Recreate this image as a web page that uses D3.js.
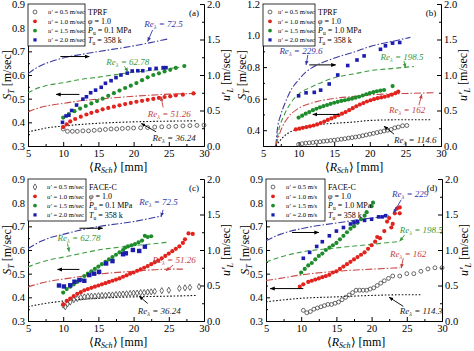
<!DOCTYPE html>
<html>
<head>
<meta charset="utf-8">
<script src="https://d3js.org/d3.v7.min.js"></script>
<style>
  body { margin: 0; background: #fff; }
  svg { font-family: "Liberation Serif", "Times New Roman", serif; }
  .axis path, .axis line { stroke: #000; stroke-width: 1; }
  .axis text { font-size: 10.5px; fill: #000; }
</style>
</head>
<body>
<script>
// shared ticks / labels
var xTicks = [5, 10, 15, 20, 25, 30];
var xMinor = [7.5, 12.5, 17.5, 22.5, 27.5];
var uTicks = [0, 0.5, 1.0, 1.5, 2.0];
var uMinor = [0.25, 0.75, 1.25, 1.75];
var speeds = ['0.5', '1.0', '1.5', '2.0'];

// ---- (a) TPRF, 0.1 MPa : S_T points [R, S_T]
var aOpen = [[10,0.372],[10.6,0.362],[11.3,0.362],[12,0.362],[12.8,0.364],[13.6,0.364],[14.4,0.366],[15.2,0.368],[16,0.37],[16.8,0.372],[17.6,0.372],[18.4,0.374],[19.2,0.375],[20,0.376],[21,0.377],[22,0.378],[23,0.38],[24,0.381],[25,0.382],[26,0.383],[27,0.385],[28,0.386],[29,0.387],[30,0.388]];
var aRed = [[10,0.38],[10.5,0.392],[11,0.404],[11.7,0.414],[12.5,0.424],[13.3,0.433],[14,0.44],[14.8,0.447],[15.6,0.455],[16.4,0.461],[17.2,0.466],[18,0.472],[18.8,0.477],[19.6,0.482],[20.4,0.487],[21.2,0.491],[22,0.495],[22.8,0.499],[23.6,0.503],[24.4,0.507],[25.2,0.51],[26,0.514],[27,0.517],[28.5,0.522]];
var aGreen = [[10,0.42],[10.8,0.435],[11.6,0.447],[12.4,0.458],[13.2,0.469],[14,0.48],[14.8,0.49],[15.6,0.5],[16.4,0.512],[17.2,0.523],[18,0.534],[18.8,0.545],[19.6,0.555],[20.4,0.566],[21.2,0.578],[22,0.59],[22.8,0.6],[23.6,0.607],[24.4,0.615],[25.2,0.622],[26,0.63],[27.2,0.638]];
var aBlue = [[9.9,0.4],[10.4,0.427],[10.8,0.43],[11.2,0.45],[11.9,0.473],[12.8,0.498],[13.3,0.508],[13.9,0.525],[14.6,0.536],[15.4,0.548],[16,0.565],[16.8,0.576],[17.5,0.589],[18.2,0.6],[19.1,0.608],[19.8,0.617],[20.6,0.618],[21.3,0.618],[22.3,0.625],[23.2,0.628],[24.2,0.631],[24.6,0.631]];
// u'_L curves [R, u'_L]
var aLineBlue = [[5,1.02],[6,1.09],[7,1.14],[8,1.18],[10,1.24],[12,1.28],[15,1.33],[20,1.41],[25,1.51]];
var aLineGreen = [[5,0.75],[6,0.8],[8,0.86],[10,0.89],[12,0.93],[15,0.97],[20,1.04],[25,1.09],[26.5,1.11]];
var aLineRed = [[5,0.48],[6,0.52],[8,0.57],[10,0.6],[12,0.63],[15,0.66],[20,0.7],[25,0.73],[29,0.74]];
var aLineBlack = [[5,0.2],[6,0.22],[8,0.26],[10,0.28],[12,0.3],[15,0.32],[20,0.34],[25,0.35],[29,0.355]];
// Re labels: value, colour, text pos [R,S], arrow from/to [R,S]
var aNotes = [
  ['72.5', 'blue', [21.5,0.817], [22.7,0.79], [22,0.742]],
  ['62.78', 'green', [16.1,0.657], [18.7,0.637], [19.2,0.614]],
  ['51.26', 'red', [22,0.437], [24.2,0.463], [23.9,0.508]],
  ['36.24', 'black', [22.7,0.335], [23.2,0.36], [21.1,0.395]]
];
var aArrows = [[9.6,13.7,0.678],[12.3,9.0,0.518]];

// ---- (b) TPRF, 1.0 MPa
var bOpen = [[10,0.31],[10.5,0.315],[11,0.318],[11.5,0.32],[12,0.322],[12.5,0.325],[13,0.327],[13.5,0.33],[14,0.332],[14.5,0.335],[15,0.337],[15.5,0.34],[16,0.343],[16.5,0.346],[17,0.35],[17.5,0.353],[18,0.357],[18.5,0.36],[19,0.365],[19.5,0.37],[20,0.375],[20.5,0.38],[21,0.385],[21.5,0.39],[22,0.395],[22.5,0.4],[23,0.405],[23.5,0.415],[24,0.42],[24.6,0.428],[25.2,0.43]];
var bRed = [[9.6,0.405],[10.1,0.41],[10.6,0.415],[11.1,0.42],[11.6,0.425],[12.1,0.43],[12.6,0.437],[13.1,0.445],[13.6,0.455],[14.1,0.465],[14.6,0.475],[15.1,0.485],[15.6,0.495],[16.1,0.505],[16.6,0.515],[17.1,0.527],[17.6,0.54],[18.1,0.552],[18.6,0.563],[19.1,0.572],[19.6,0.582],[20.1,0.59],[20.6,0.597],[21.1,0.603],[21.6,0.608],[22.1,0.612],[22.6,0.618],[23.1,0.625],[23.6,0.635],[24,0.645]];
var bGreen = [[10,0.48],[10.5,0.492],[11,0.505],[11.5,0.515],[12,0.527],[12.5,0.536],[13,0.545],[13.5,0.553],[14,0.56],[14.5,0.567],[15,0.574],[15.5,0.58],[16,0.586],[16.5,0.59],[17,0.595],[17.5,0.6],[18,0.606],[18.5,0.612],[19,0.62],[19.5,0.628],[20,0.635],[20.5,0.641],[21,0.647],[21.5,0.651],[22,0.655],[23.2,0.68]];
var bBlue = [[10,0.618],[11.05,0.637],[12.2,0.64],[13.1,0.654],[14.3,0.693],[15.5,0.75],[16.9,0.81],[18.2,0.845],[19.2,0.871],[21.5,0.913],[22.2,0.935],[23.2,0.952],[24.2,0.956]];
var bLineBlue = [[6.8,0],[7,0.22],[7.5,0.44],[8,0.58],[9,0.8],[10,0.93],[11,1.04],[12,1.11],[14,1.2],[16,1.27],[18,1.33],[20,1.4],[23,1.47],[25.7,1.53]];
var bLineGreen = [[6.8,0],[7.2,0.22],[8,0.44],[9,0.62],[10,0.73],[12,0.84],[15,0.96],[18,1.02],[20,1.06],[23,1.09],[26.2,1.12]];
var bLineRed = [[6.8,0],[7.5,0.22],[8.5,0.4],[10,0.53],[12,0.61],[15,0.67],[18,0.7],[20,0.72],[25,0.74],[29,0.75]];
var bLineBlack = [[6.8,0],[7.5,0.09],[8.5,0.18],[10,0.24],[12,0.29],[15,0.32],[18,0.34],[20,0.36],[25,0.37],[28.5,0.37]];
var bNotes = [
  ['229.6', 'blue', [7.3,0.905], [11.3,0.877], [11.05,0.814]],
  ['198.5', 'green', [21.5,0.867], [24.8,0.84], [25,0.797]],
  ['162', 'red', [22.7,0.527], [26.9,0.559], [27.3,0.627]],
  ['114.6', 'black', [23.4,0.34], [23.4,0.375], [22,0.425]]
];
var bArrows = [[11.5,15.2,0.814],[15.7,12,0.5]];

// ---- (c) FACE-C, 0.1 MPa
var cOpen = [[10,0.367],[10.3,0.36],[10.6,0.372],[11,0.38],[11.5,0.39],[12,0.395],[12.5,0.4],[13,0.402],[13.5,0.404],[14,0.405],[14.5,0.405],[15,0.407],[15.5,0.408],[16,0.408],[16.5,0.41],[17,0.41],[17.5,0.412],[18,0.413],[18.5,0.414],[19,0.415],[19.5,0.416],[20,0.418],[20.5,0.418],[21,0.42],[21.5,0.42],[22,0.422],[22.5,0.423],[23,0.425],[24,0.428],[25,0.43],[26.5,0.438],[27.3,0.44],[28,0.442],[29.3,0.445]];
var cRed = [[10,0.37],[10.5,0.385],[11,0.395],[11.5,0.405],[12,0.415],[12.5,0.422],[13,0.43],[13.5,0.435],[14,0.44],[14.5,0.445],[15,0.45],[15.5,0.455],[16,0.46],[16.5,0.465],[17,0.47],[17.5,0.475],[18,0.48],[18.5,0.487],[19,0.493],[19.5,0.5],[20,0.505],[20.5,0.512],[21,0.518],[21.5,0.525],[22,0.532],[22.5,0.54],[23,0.548],[23.5,0.555],[24,0.565],[24.5,0.575],[25,0.585],[25.5,0.595],[26,0.605],[26.5,0.615],[27,0.63],[27.3,0.645],[27.8,0.67],[28.4,0.668]];
var cGreen = [[10,0.42],[10.5,0.435],[11,0.445],[11.5,0.455],[12,0.465],[12.5,0.475],[13,0.49],[13.5,0.5],[14,0.51],[14.5,0.52],[15,0.53],[15.5,0.54],[16,0.55],[16.5,0.56],[17,0.57],[17.5,0.58],[18,0.59],[18.5,0.6],[18.8,0.61],[19.2,0.615],[19.7,0.62],[20.2,0.625],[20.7,0.632],[21.2,0.64],[21.6,0.66],[22,0.655],[22.5,0.658]];
var cBlue = [[9.4,0.45],[10.1,0.446],[11,0.451],[11.6,0.466],[12.3,0.473],[13,0.47],[13.7,0.494],[14.4,0.5],[15.1,0.508],[16.1,0.543],[17,0.553],[18.5,0.582],[18.9,0.586],[19.9,0.6],[20.8,0.596],[21.6,0.614]];
var cLineBlue = [[5,1.02],[6,1.08],[7,1.13],[8,1.17],[10,1.22],[12,1.27],[15,1.33],[20,1.4],[24,1.48]];
var cLineGreen = [[5,0.76],[6,0.8],[8,0.86],[10,0.9],[12,0.94],[15,1.0],[20,1.06],[25,1.11]];
var cLineRed = [[5,0.48],[6,0.51],[8,0.56],[10,0.59],[12,0.62],[15,0.66],[20,0.7],[25,0.73],[27,0.73]];
var cLineBlack = [[5,0.2],[7,0.24],[10,0.28],[15,0.32],[20,0.34],[25,0.35],[29,0.36]];
var cNotes = [
  ['72.5', 'blue', [20.8,0.805], [24.2,0.77], [23.9,0.741]],
  ['62.78', 'green', [9.2,0.65], [10.6,0.628], [10.85,0.593]],
  ['51.26', 'red', [22.7,0.558], [25.6,0.536], [24.6,0.512]],
  ['36.24', 'black', [20.6,0.341], [22,0.374], [20.8,0.405]]
];
var cArrows = [[12.3,15.6,0.692],[12.3,9.2,0.518]];

// ---- (d) FACE-C, 1.0 MPa
var dOpen = [[10.3,0.345],[10.8,0.335],[11.3,0.34],[11.8,0.35],[12.3,0.355],[12.8,0.36],[13.3,0.365],[13.8,0.37],[14.3,0.37],[14.8,0.375],[15.3,0.38],[15.8,0.39],[16.3,0.4],[16.8,0.41],[17.3,0.42],[17.8,0.43],[18.3,0.43],[18.8,0.43],[19.3,0.43],[19.8,0.435],[20.3,0.44],[20.8,0.45],[21.3,0.46],[21.8,0.47],[22.4,0.48],[23,0.49],[24,0.49],[25,0.5],[26,0.5],[27,0.51],[28,0.52],[29,0.525],[30,0.525]];
var dRed = [[9.8,0.445],[10.3,0.455],[11,0.465],[11.5,0.47],[12,0.475],[12.5,0.48],[13,0.485],[13.5,0.49],[14,0.495],[14.5,0.505],[15,0.51],[15.5,0.52],[16,0.53],[16.5,0.54],[17,0.55],[17.5,0.56],[18,0.57],[18.5,0.58],[19,0.59],[19.5,0.605],[20,0.62],[20.5,0.635],[20.8,0.655],[21.2,0.65],[21.8,0.68],[22.2,0.72],[22.5,0.735],[22.8,0.695],[23,0.71],[23.3,0.755],[23.6,0.775],[24,0.78],[24,0.755]];
var dGreen = [[10,0.505],[10.5,0.52],[11,0.535],[11.5,0.545],[12,0.56],[12.5,0.575],[13,0.585],[13.5,0.6],[14,0.61],[14.5,0.62],[15,0.63],[15.5,0.645],[16,0.66],[16.5,0.675],[17,0.69],[17.5,0.7],[18,0.715],[18.5,0.73],[19,0.745],[19.3,0.76],[20,0.785],[20.2,0.8]];
var dBlue = [[10.3,0.565],[11.2,0.59],[12.2,0.615],[13,0.635],[14,0.66],[15,0.68],[16,0.695],[17,0.71],[17.5,0.715],[18,0.72],[19,0.725],[20,0.73],[21,0.74],[21.5,0.74],[22,0.745]];
var dLineBlue = [[5,1.13],[7,1.22],[10,1.3],[15,1.38],[20,1.45],[22.5,1.48]];
var dLineGreen = [[5,0.83],[7,0.9],[10,0.97],[15,1.03],[20,1.08],[24,1.12]];
var dLineRed = [[5,0.57],[7,0.6],[10,0.65],[15,0.7],[20,0.73],[24,0.75]];
var dLineBlack = [[5,0.27],[10,0.32],[15,0.34],[20,0.36],[25,0.37],[27,0.37]];
var dNotes = [
  ['229', 'blue', [22.9,0.836], [24.2,0.812], [23.1,0.756]],
  ['198.5', 'green', [24,0.685], [24.7,0.664], [24,0.637]],
  ['162', 'red', [22.6,0.582], [24.5,0.565], [24.2,0.524]],
  ['114.3', 'black', [24,0.341], [24.5,0.362], [22.5,0.4]]
];
var dArrows = [[8.7,12.5,0.674],[10.3,5.6,0.437]];

var colors = {blue: '#1c1cae', green: '#1f8c2c', red: '#e2231d', black: '#000'};
var lineCol = {blue: '#3b3ba0', green: '#3f9c42', red: '#c84848', black: '#111'};
var noteCol = {blue: '#3535a8', green: '#3a983e', red: '#c63d3d', black: '#222'};
var dashes = {blue: '7,2,1.5,2', green: '5,3', red: '7,2,1.5,2', black: '1.6,1.8'};

var panels = [
  {tag: '(a)', left: 28, right: 204, top: 4, bottom: 146, sDomain: [0.3, 0.9],
   sTicks: [0.3,0.4,0.5,0.6,0.7,0.8,0.9], sMinor: [0.35,0.45,0.55,0.65,0.75,0.85],
   pts: [aOpen, aRed, aGreen, aBlue], lines: [aLineBlue, aLineGreen, aLineRed, aLineBlack],
   notes: aNotes, arrows: aArrows, site: 'TPRF', press: '0.1', unit: 'm/sec',
   openShape: 'circle', sq: 3.6, legW: 57, legMx: 7, legTx: 20},
  {tag: '(b)', left: 263, right: 441, top: 4, bottom: 146, sDomain: [0.3, 1.2],
   sTicks: [0.4,0.6,0.8,1.0,1.2], sMinor: [0.5,0.7,0.9,1.1],
   pts: [bOpen, bRed, bGreen, bBlue], lines: [bLineBlue, bLineGreen, bLineRed, bLineBlack],
   notes: bNotes, arrows: bArrows, site: 'TPRF', press: '1.0', unit: 'm/sec',
   openShape: 'circle', sq: 3.6, legW: 52, legMx: 7, legTx: 15},
  {tag: '(c)', left: 28, right: 204, top: 179, bottom: 321, sDomain: [0.3, 0.9],
   sTicks: [0.3,0.4,0.5,0.6,0.7,0.8,0.9], sMinor: [0.35,0.45,0.55,0.65,0.75,0.85],
   pts: [cOpen, cRed, cGreen, cBlue], lines: [cLineBlue, cLineGreen, cLineRed, cLineBlack],
   notes: cNotes, arrows: cArrows, site: 'FACE-C', press: '0.1', unit: 'm/sec',
   openShape: 'diamond', sq: 4.4, legW: 58, legMx: 7, legTx: 19},
  {tag: '(d)', left: 266, right: 442, top: 179, bottom: 321, sDomain: [0.3, 0.9],
   sTicks: [0.3,0.4,0.5,0.6,0.7,0.8,0.9], sMinor: [0.35,0.45,0.55,0.65,0.75,0.85],
   pts: [dOpen, dRed, dGreen, dBlue], lines: [dLineBlue, dLineGreen, dLineRed, dLineBlack],
   notes: dNotes, arrows: dArrows, site: 'FACE-C', press: '1.0', unit: 'm/s',
   openShape: 'circle', sq: 3.6, legW: 59, legMx: 7, legTx: 20}
];

var svg = d3.select('body').append('svg')
  .attr('width', 474)
  .attr('height', 351);

var defs = svg.append('defs');
Object.keys(noteCol).forEach(function(k) {
  defs.append('marker')
    .attr('id', 'head-' + k)
    .attr('viewBox', '0 0 10 10')
    .attr('refX', 9).attr('refY', 5)
    .attr('markerWidth', 5).attr('markerHeight', 5)
    .attr('orient', 'auto')
  .append('path')
    .attr('d', 'M0,1 L10,5 L0,9 Z')
    .attr('fill', k == 'black' ? '#000' : noteCol[k]);
});

function reText(sel, val) {
  sel.append('tspan').text('Re');
  sel.append('tspan').attr('font-size', '0.7em').attr('dy', '2').text('λ');
  sel.append('tspan').attr('dy', '-2').text(' = ' + val);
}

panels.forEach(function(p) {
  var x = d3.scaleLinear().domain([5, 30]).range([p.left, p.right]);
  var y = d3.scaleLinear().domain(p.sDomain).range([p.bottom, p.top]);
  var u = d3.scaleLinear().domain([0, 2]).range([p.bottom, p.top]);
  var g = svg.append('g');

  // axes
  g.append('g').attr('class', 'axis')
    .attr('transform', `translate(0, ${p.bottom})`)
    .call(d3.axisBottom(x).tickValues(xTicks).tickSizeInner(-4).tickSizeOuter(0).tickPadding(4));
  g.append('g').attr('class', 'axis')
    .attr('transform', `translate(0, ${p.bottom})`)
    .call(d3.axisBottom(x).tickValues(xMinor).tickSizeInner(-2).tickSizeOuter(0).tickFormat(''));
  g.append('g').attr('class', 'axis')
    .attr('transform', `translate(${p.left}, 0)`)
    .call(d3.axisLeft(y).tickValues(p.sTicks).tickSizeInner(-4).tickSizeOuter(0).tickPadding(3).tickFormat(d3.format('.1f')));
  g.append('g').attr('class', 'axis')
    .attr('transform', `translate(${p.left}, 0)`)
    .call(d3.axisLeft(y).tickValues(p.sMinor).tickSizeInner(-2).tickSizeOuter(0).tickFormat(''));
  g.append('g').attr('class', 'axis')
    .attr('transform', `translate(${p.right}, 0)`)
    .call(d3.axisRight(u).tickValues(uTicks).tickSizeInner(-4).tickSizeOuter(0).tickPadding(3).tickFormat(d3.format('.1f')));
  g.append('g').attr('class', 'axis')
    .attr('transform', `translate(${p.right}, 0)`)
    .call(d3.axisRight(u).tickValues(uMinor).tickSizeInner(-2).tickSizeOuter(0).tickFormat(''));
  g.selectAll('.axis text').attr('font-family', '"Liberation Serif", serif');

  // axis titles
  var cy = (p.top + p.bottom) / 2;
  var st = g.append('text')
    .attr('transform', `translate(${p.left - 17}, ${cy}) rotate(-90)`)
    .attr('text-anchor', 'middle').attr('font-size', 12);
  st.append('tspan').attr('font-style', 'italic').text('S');
  st.append('tspan').attr('font-style', 'italic').attr('font-size', 8).attr('dy', 3).text('T');
  st.append('tspan').attr('dy', -3).text(' [m/sec]');

  var ut = g.append('text')
    .attr('transform', `translate(${p.right + 26}, ${cy}) rotate(-90)`)
    .attr('text-anchor', 'middle').attr('font-size', 12);
  ut.append('tspan').attr('font-style', 'italic').text('u′');
  ut.append('tspan').attr('font-style', 'italic').attr('font-size', 8).attr('dy', 3).text('L');
  ut.append('tspan').attr('dy', -3).text(' [m/sec]');

  var rt = g.append('text')
    .attr('x', (p.left + p.right) / 2 + 2).attr('y', p.bottom + 25)
    .attr('text-anchor', 'middle').attr('font-size', 12);
  rt.append('tspan').text('⟨');
  rt.append('tspan').attr('font-style', 'italic').text('R');
  rt.append('tspan').attr('font-style', 'italic').attr('font-size', 8).attr('dy', 2).text('Sch');
  rt.append('tspan').attr('dy', -2).text('⟩  [mm]');

  // u'_L curves (right axis)
  var line = d3.line().x(d => x(d[0])).y(d => u(d[1])).curve(d3.curveMonotoneX);
  ['blue', 'green', 'red', 'black'].forEach(function(k, i) {
    g.append('path')
      .attr('d', line(p.lines[i]))
      .attr('fill', 'none')
      .attr('stroke', lineCol[k])
      .attr('stroke-width', 1.1)
      .attr('stroke-dasharray', dashes[k]);
  });

  // S_T points (left axis)
  var openSym = d3.symbol().type(p.openShape == 'diamond' ? d3.symbolDiamond : d3.symbolCircle).size(p.openShape == 'diamond' ? 11 : 12);
  g.selectAll('.open').data(p.pts[0]).enter().append('path')
    .attr('transform', d => `translate(${x(d[0])}, ${y(d[1])})`)
    .attr('d', openSym)
    .attr('fill', 'none').attr('stroke', '#444').attr('stroke-width', 0.8);
  g.selectAll('.red').data(p.pts[1]).enter().append('circle')
    .attr('cx', d => x(d[0])).attr('cy', d => y(d[1])).attr('r', 2.1)
    .attr('fill', colors.red);
  g.selectAll('.green').data(p.pts[2]).enter().append('circle')
    .attr('cx', d => x(d[0])).attr('cy', d => y(d[1])).attr('r', 2.1)
    .attr('fill', colors.green);
  g.selectAll('.blue').data(p.pts[3]).enter().append('rect')
    .attr('x', d => x(d[0]) - p.sq / 2).attr('y', d => y(d[1]) - p.sq / 2)
    .attr('width', p.sq).attr('height', p.sq)
    .attr('fill', colors.blue);

  // axis direction arrows
  p.arrows.forEach(function(a) {
    g.append('line')
      .attr('x1', x(a[0])).attr('x2', x(a[1]))
      .attr('y1', y(a[2])).attr('y2', y(a[2]))
      .attr('stroke', '#000').attr('stroke-width', 1)
      .attr('marker-end', 'url(#head-black)');
  });

  // Re labels
  p.notes.forEach(function(n) {
    var t = g.append('text')
      .attr('x', x(n[2][0])).attr('y', y(n[2][1]))
      .attr('dy', '0.35em')
      .attr('font-size', 9).attr('font-style', 'italic')
      .attr('fill', noteCol[n[1]]);
    reText(t, n[0]);
    g.append('line')
      .attr('x1', x(n[3][0])).attr('y1', y(n[3][1]))
      .attr('x2', x(n[4][0])).attr('y2', y(n[4][1]))
      .attr('stroke', n[1] == 'black' ? '#000' : noteCol[n[1]]).attr('stroke-width', 0.9)
      .attr('marker-end', 'url(#head-' + n[1] + ')');
  });

  // legend
  var lg = g.append('g').attr('transform', `translate(${p.left}, ${p.top})`);
  lg.append('rect')
    .attr('x', 0).attr('y', 0).attr('width', p.legW).attr('height', 42)
    .attr('fill', '#fff').attr('stroke', '#000').attr('stroke-width', 0.8);
  speeds.forEach(function(s, i) {
    var ry = 8 + i * 9.3;
    if (i == 0) {
      lg.append('path').attr('transform', `translate(${p.legMx}, ${ry})`)
        .attr('d', openSym).attr('fill', 'none').attr('stroke', '#444').attr('stroke-width', 0.8);
    } else if (i == 3) {
      lg.append('rect').attr('x', p.legMx - 1.6).attr('y', ry - 1.6)
        .attr('width', 3.2).attr('height', 3.2).attr('fill', colors.blue);
    } else {
      lg.append('circle').attr('cx', p.legMx).attr('cy', ry).attr('r', 1.9)
        .attr('fill', i == 1 ? colors.red : colors.green);
    }
    var lt = lg.append('text').attr('x', p.legTx).attr('y', ry).attr('dy', '0.35em')
      .attr('font-size', 6.6);
    lt.append('tspan').attr('font-style', 'italic').text('u′');
    lt.append('tspan').text(' = ' + s + ' ' + p.unit);
  });
  var info = [[p.site], ['φ', ' = 1.0'], ['P', 'u', ' = ' + p.press + ' MPa'], ['T', 'u', ' = 358 k']];
  info.forEach(function(r, i) {
    var t = lg.append('text').attr('x', p.legW + 3).attr('y', 8 + i * 9.3).attr('dy', '0.35em')
      .attr('font-size', 8);
    if (r.length == 1) { t.text(r[0]); return; }
    t.append('tspan').attr('font-style', 'italic').text(r[0]);
    if (r.length == 3) {
      t.append('tspan').attr('font-size', 5.5).attr('dy', 2).text(r[1]);
      t.append('tspan').attr('dy', -2).text(r[2]);
    } else {
      t.append('tspan').text(r[1]);
    }
  });

  g.append('text')
    .attr('x', p.right - 10).attr('y', p.top + 12)
    .attr('text-anchor', 'middle').attr('font-size', 9)
    .text(p.tag);
});
</script>
</body>
</html>
